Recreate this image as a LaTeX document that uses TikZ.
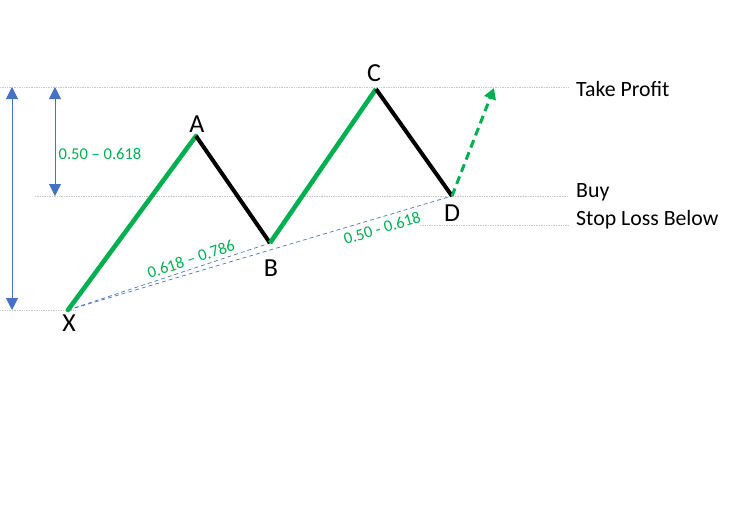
\documentclass[tikz,border=0pt]{standalone}
\usepackage{fontspec}
\setmainfont{Carlito}
\usetikzlibrary{arrows.meta}
\definecolor{lgreen}{HTML}{00B050}
\definecolor{lblue}{HTML}{4472C4}
\definecolor{dgray}{HTML}{C8C8C8}
\tikzset{
  greenleg/.style={lgreen, line width=4.6pt},
  blackleg/.style={black, line width=4pt},
  guide/.style={dgray, densely dotted, line width=0.7pt},
  measure/.style={lblue, line width=0.9pt, {Triangle[width=12pt,length=12pt]}-{Triangle[width=12pt,length=12pt]}},
  ratio/.style={lblue!80!gray, line width=0.7pt, dash pattern=on 4pt off 3pt},
  ptlabel/.style={font=\fontsize{26}{26}\selectfont, inner sep=0pt},
  sidelabel/.style={font=\fontsize{21.8}{21.8}\selectfont, anchor=west, inner sep=0pt},
  ratiolabel/.style={text=lgreen, font=\fontsize{16.5}{16.5}\selectfont, inner sep=0pt}
}
\begin{document}
\begin{tikzpicture}[x=1pt,y=-1pt]
\useasboundingbox (0,0) rectangle (734,514);
% points
\coordinate (X) at (68,310);
\coordinate (A) at (196,136);
\coordinate (B) at (270,243);
\coordinate (C) at (376,89);
\coordinate (D) at (452,196);
\coordinate (T) at (494,88);
% guide lines
\coordinate (tp0) at (0,87);  \coordinate (tp1) at (568,87);
\coordinate (by0) at (35,196); \coordinate (by1) at (568,196);
\coordinate (sl0) at (420,225); \coordinate (sl1) at (568,225);
\coordinate (xl0) at (0,310); \coordinate (xl1) at (76,310);
\draw[guide] (tp0) -- (tp1);
\draw[guide] (by0) -- (by1);
\draw[guide] (sl0) -- (sl1);
\draw[guide] (xl0) -- (xl1);
% measure arrows
\coordinate (m1a) at (12,87); \coordinate (m1b) at (12,310);
\coordinate (m2a) at (55,87); \coordinate (m2b) at (55,196);
\draw[measure] (m1a) -- (m1b);
\draw[measure] (m2a) -- (m2b);
% ratio lines
\draw[ratio] (X) -- (B);
\draw[ratio] (X) -- (D);
% legs
\draw[greenleg, line cap=round] (X) -- (A);
\draw[blackleg] (A) -- (B);
\draw[greenleg] (B) -- (C);
\draw[blackleg] (C) -- (D);
\draw[lgreen, line width=3pt, dash pattern=on 8pt off 5pt, -{Triangle[width=12pt,length=11pt]}] (D) -- (T);
% point labels
\node[ptlabel] (lX) at (69,323) {X};
\node[ptlabel] (lA) at (197,124) {A};
\node[ptlabel] (lB) at (271,268) {B};
\node[ptlabel] (lC) at (374,73) {C};
\node[ptlabel] (lD) at (452,213) {D};
% side labels
\node[sidelabel] (ltp) at (576,89) {Take Profit};
\node[sidelabel] (lby) at (576,192) {Buy};
\node[sidelabel] (lsl) at (576,220) {Stop Loss Below};
% ratio labels
\node[ratiolabel] (r1) at (100,154) {0.50 – 0.618};
\node[ratiolabel, rotate=18.5] (r2) at (191,259) {0.618 – 0.786};
\node[ratiolabel, rotate=16.5] (r3) at (382,228) {0.50 - 0.618};
\end{tikzpicture}
\end{document}
